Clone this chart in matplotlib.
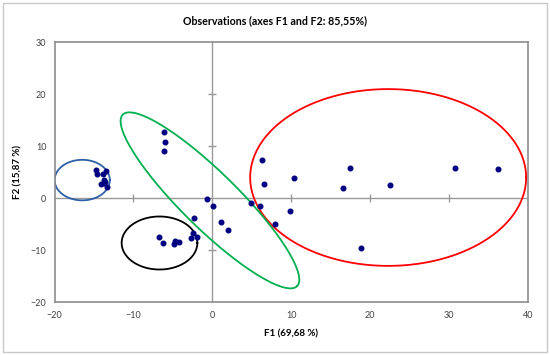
import numpy as np
import matplotlib.pyplot as plt
from matplotlib.patches import Rectangle

# Observations (F1, F2)
f1 = [-14.7, -14.6, -13.9, -13.5, -13.8, -14.1, -13.7, -13.4, -13.6,
      -6.1, -6.0, -6.1,
      -6.8, -6.3, -4.9, -4.7, -4.2, -2.75, -2.4, -2.0, -2.3,
      -0.65, 0.04, 1.05, 2.0, 4.9, 6.0, 6.3, 6.6, 8.0, 9.8, 10.3,
      16.6, 17.5, 18.9, 22.5, 30.75, 36.2]
f2 = [5.4, 4.7, 4.7, 5.25, 3.5, 2.75, 2.9, 2.2, 3.1,
      12.7, 10.9, 9.0,
      -7.4, -8.65, -8.85, -8.15, -8.45, -7.6, -6.75, -7.4, -3.8,
      -0.1, -1.4, -4.55, -6.1, -0.85, -1.55, 7.4, 2.8, -4.95, -2.5, 3.85,
      1.9, 5.75, -9.5, 2.55, 5.75, 5.6]

# cluster ellipses: centre x, centre y, half width (F1 units), half height (F2 units)
ell_colors = ['#2e5fa8', 'black', '#ff0000']
ell_cx = [-16.5, -6.7, 22.3]
ell_cy = [3.5, -8.6, 4.0]
ell_rx = [3.5, 4.8, 17.5]
ell_ry = [3.9, 5.1, 17.0]

# tilted green ellipse (axes in F1 units, angle on screen)
green_c = (-0.3, -0.4)
green_a, green_b, green_angle = 15.5, 3.55, -44.5

xticks = [-20, -10, 0, 10, 20, 30, 40]
yticks = [-20, -10, 0, 10, 20, 30]

plt.rcParams['font.family'] = ['Lato', 'DejaVu Sans']

fig = plt.figure(figsize=(5.5, 3.55), dpi=100)
fig.patches.append(Rectangle((3 / 550, 3 / 355), 544 / 550, 349 / 355, transform=fig.transFigure,
                             fill=False, edgecolor='#c8c8c8', linewidth=1.0))
ax = fig.add_axes([0.0993, 0.1485, 0.8602, 0.7324])

ax.set_xlim(-20, 40)
ax.set_ylim(-20, 30)

# zero lines with cross ticks
ax.axhline(0, color='#9a9a9a', lw=1.0, zorder=1)
ax.axvline(0, color='#9a9a9a', lw=1.0, zorder=1)
ax.plot([t for t in xticks if t not in (-20, 0, 40)], [0] * 4, ls='none', marker='|',
        ms=6, mew=1.0, color='#9a9a9a', zorder=1)
ax.plot([0] * 3, [t for t in yticks if t not in (-20, 0, 30)], ls='none', marker='_',
        ms=6, mew=1.0, color='#9a9a9a', zorder=1)

t = np.linspace(0, 2 * np.pi, 400)
for c, cx, cy, rx, ry in zip(ell_colors, ell_cx, ell_cy, ell_rx, ell_ry):
    ax.plot(cx + rx * np.cos(t), cy + ry * np.sin(t), color=c, lw=1.3, zorder=2)

ratio = 7.89 / 5.2  # screen scale F2 vs F1
phi = np.radians(green_angle)
gx = green_c[0] + green_a * np.cos(t) * np.cos(phi) - green_b * np.sin(t) * np.sin(phi)
gy = green_c[1] + (green_a * np.cos(t) * np.sin(phi) + green_b * np.sin(t) * np.cos(phi)) * ratio
ax.plot(gx, gy, color='#00b050', lw=1.3, zorder=2)

ax.plot(f1, f2, ls='none', marker='o', ms=3.3, color='#000080', zorder=3)

ax.set_xticks(xticks)
ax.set_yticks(yticks)
ax.tick_params(length=0, labelsize=6.5, labelcolor='#404040', pad=6)
for s in ax.spines.values():
    s.set_color('#8c8c8c')
    s.set_linewidth(1.2)

fig.text(0.5, 1 - 21 / 355, 'Observations (axes F1 and F2: 85,55%)', fontsize=7.7,
         fontweight='bold', ha='center', va='center')
ax.set_xlabel('F1 (69,68 %)', fontsize=7, fontweight='bold', labelpad=7)
ax.set_ylabel('F2 (15,87 %)', fontsize=7, fontweight='bold', labelpad=6)

fig.savefig('out.png', dpi=100)
